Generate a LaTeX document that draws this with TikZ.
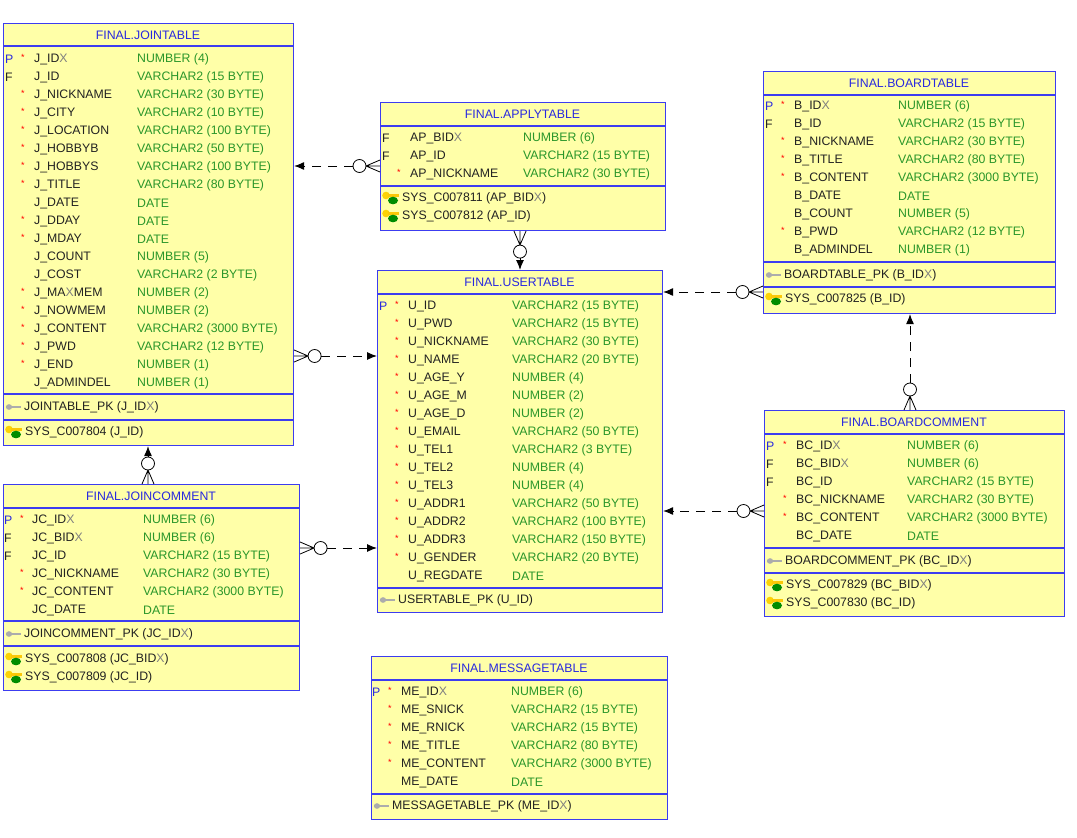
\documentclass[tikz,border=0pt]{standalone}
\usepackage{fontspec}
\setmainfont{Liberation Sans}
\usetikzlibrary{calc,arrows.meta}
\definecolor{bfill}{HTML}{FFFFA8}
\definecolor{bline}{HTML}{3C3CF0}
\definecolor{ttl}{HTML}{2828E0}
\definecolor{typ}{HTML}{2A962A}
\definecolor{nm}{HTML}{222222}
\newcounter{tn}
\newcommand\gx{\textcolor{gray}{X}}
\newcommand\tbl[6]{%
  \node[tbox,minimum width=#4-#2,minimum height=#5-#3,anchor=north west] (#1) at (#2,#3) {};
  \stepcounter{tn}\node[ttxt] (#1-t) at ({(#2+#4)/2},#3+12.5) {#6};}
\newcommand\hl[3]{\draw[bline,line width=1.1pt] (#1,#3) -- (#2,#3);}
\newcommand\cols[4]{\def\cF{#1}\def\cS{#2}\def\cN{#3}\def\cT{#4}}
\newcommand\row[5]{%
  \stepcounter{tn}\node[txt,anchor=west] (f\thetn) at (\cF-1,#1) {#2};
  \stepcounter{tn}\node[txt,red,anchor=west,font=\fontsize{9}{9}\selectfont] (s\thetn) at (\cS-1,#1-2) {#3};
  \stepcounter{tn}\node[txt,anchor=west] (n\thetn) at (\cN,#1) {#4};
  \stepcounter{tn}\node[txt,typ,anchor=west] (y\thetn) at (\cT,#1) {#5};}
\newcommand\Pf{\textcolor{ttl}{P}}
\newcommand\pkrow[3]{%
  \fill[gray!65] (#1+3,#2) ellipse (3.2 and 2.8); \draw[gray!65,line width=2.2pt] (#1+5,#2) -- (#1+15,#2);
  \stepcounter{tn}\node[txt,anchor=west] (k\thetn) at (#1+18,#2) {#3};}
\newcommand\fkrow[3]{%
  \fill[yellow!70!orange] (#1+4,#2-2.5) circle (3.8); \draw[yellow!60!orange,line width=2.6pt] (#1+6,#2-2.5) -- (#1+17,#2-2.5);
  \fill[green!55!black] (#1+11,#2+2.5) ellipse (5 and 3.8);
  \stepcounter{tn}\node[txt,anchor=west] (k\thetn) at (#1+20,#2) {#3};}
\newcommand\rel[2]{%
  \draw[black,line width=0.8pt] ($(#1)!14pt!(#2)$) -- ($(#1)!6pt!90:(#2)$)
     ($(#1)!14pt!(#2)$) -- (#1) ($(#1)!14pt!(#2)$) -- ($(#1)!6pt!-90:(#2)$);
  \draw[black,line width=0.8pt,fill=white] ($(#1)!20.5pt!(#2)$) circle (6.5);
  \draw[black,line width=1pt,dash pattern=on 9pt off 7pt,-{Latex[length=10pt,width=8pt]}] ($(#1)!27pt!(#2)$) -- (#2);}
\begin{document}
\begin{tikzpicture}[x=1pt,y=-1pt,
  tbox/.style={draw=bline,fill=bfill,line width=1.1pt,inner sep=0},
  ttxt/.style={ttl,font=\fontsize{12.3}{14}\selectfont,inner sep=0},
  txt/.style={nm,font=\fontsize{12.3}{14}\selectfont,inner sep=0}]
\useasboundingbox[fill=white] (0,0) rectangle (1077,838);
% JOINTABLE
\tbl{jt}{3}{23}{293}{445}{FINAL.JOINTABLE}
\hl{3}{293}{46}\hl{3}{293}{394}\hl{3}{293}{420}
\cols{6}{22}{34}{137}
\row{59}{\Pf}{*}{J\_ID\gx}{NUMBER (4)}
\row{77}{F}{}{J\_ID}{VARCHAR2 (15 BYTE)}
\row{95}{}{*}{J\_NICKNAME}{VARCHAR2 (30 BYTE)}
\row{113}{}{*}{J\_CITY}{VARCHAR2 (10 BYTE)}
\row{131}{}{*}{J\_LOCATION}{VARCHAR2 (100 BYTE)}
\row{149}{}{*}{J\_HOBBYB}{VARCHAR2 (50 BYTE)}
\row{167}{}{*}{J\_HOBBYS}{VARCHAR2 (100 BYTE)}
\row{185}{}{*}{J\_TITLE}{VARCHAR2 (80 BYTE)}
\row{203}{}{}{J\_DATE}{DATE}
\row{221}{}{*}{J\_DDAY}{DATE}
\row{239}{}{*}{J\_MDAY}{DATE}
\row{257}{}{}{J\_COUNT}{NUMBER (5)}
\row{275}{}{}{J\_COST}{VARCHAR2 (2 BYTE)}
\row{293}{}{*}{J\_MA\gx MEM}{NUMBER (2)}
\row{311}{}{*}{J\_NOWMEM}{NUMBER (2)}
\row{329}{}{*}{J\_CONTENT}{VARCHAR2 (3000 BYTE)}
\row{347}{}{*}{J\_PWD}{VARCHAR2 (12 BYTE)}
\row{365}{}{*}{J\_END}{NUMBER (1)}
\row{383}{}{}{J\_ADMINDEL}{NUMBER (1)}
\pkrow{6}{407}{JOINTABLE\_PK (J\_ID\gx)}
\fkrow{5}{432}{SYS\_C007804 (J\_ID)}
% APPLYTABLE
\tbl{ap}{380}{102}{665}{230}{FINAL.APPLYTABLE}
\hl{380}{665}{126}\hl{380}{665}{186}
\cols{383}{398}{410}{523}
\row{138}{F}{}{AP\_BID\gx}{NUMBER (6)}
\row{156}{F}{}{AP\_ID}{VARCHAR2 (15 BYTE)}
\row{174}{}{*}{AP\_NICKNAME}{VARCHAR2 (30 BYTE)}
\fkrow{382}{198}{SYS\_C007811 (AP\_BID\gx)}
\fkrow{382}{216}{SYS\_C007812 (AP\_ID)}
% USERTABLE
\tbl{ut}{377}{270}{662}{612}{FINAL.USERTABLE}
\hl{377}{662}{294}\hl{377}{662}{588}
\cols{380}{396}{408}{512}
\row{306}{\Pf}{*}{U\_ID}{VARCHAR2 (15 BYTE)}
\row{324}{}{*}{U\_PWD}{VARCHAR2 (15 BYTE)}
\row{342}{}{*}{U\_NICKNAME}{VARCHAR2 (30 BYTE)}
\row{360}{}{*}{U\_NAME}{VARCHAR2 (20 BYTE)}
\row{378}{}{*}{U\_AGE\_Y}{NUMBER (4)}
\row{396}{}{*}{U\_AGE\_M}{NUMBER (2)}
\row{414}{}{*}{U\_AGE\_D}{NUMBER (2)}
\row{432}{}{*}{U\_EMAIL}{VARCHAR2 (50 BYTE)}
\row{450}{}{*}{U\_TEL1}{VARCHAR2 (3 BYTE)}
\row{468}{}{*}{U\_TEL2}{NUMBER (4)}
\row{486}{}{*}{U\_TEL3}{NUMBER (4)}
\row{504}{}{*}{U\_ADDR1}{VARCHAR2 (50 BYTE)}
\row{522}{}{*}{U\_ADDR2}{VARCHAR2 (100 BYTE)}
\row{540}{}{*}{U\_ADDR3}{VARCHAR2 (150 BYTE)}
\row{558}{}{*}{U\_GENDER}{VARCHAR2 (20 BYTE)}
\row{576}{}{}{U\_REGDATE}{DATE}
\pkrow{380}{600}{USERTABLE\_PK (U\_ID)}
% BOARDTABLE
\tbl{bt}{763}{71}{1055}{313}{FINAL.BOARDTABLE}
\hl{763}{1055}{95}\hl{763}{1055}{262}\hl{763}{1055}{287}
\cols{766}{782}{794}{898}
\row{106}{\Pf}{*}{B\_ID\gx}{NUMBER (6)}
\row{124}{F}{}{B\_ID}{VARCHAR2 (15 BYTE)}
\row{142}{}{*}{B\_NICKNAME}{VARCHAR2 (30 BYTE)}
\row{160}{}{*}{B\_TITLE}{VARCHAR2 (80 BYTE)}
\row{178}{}{*}{B\_CONTENT}{VARCHAR2 (3000 BYTE)}
\row{196}{}{}{B\_DATE}{DATE}
\row{214}{}{}{B\_COUNT}{NUMBER (5)}
\row{232}{}{*}{B\_PWD}{VARCHAR2 (12 BYTE)}
\row{250}{}{}{B\_ADMINDEL}{NUMBER (1)}
\pkrow{766}{275}{BOARDTABLE\_PK (B\_ID\gx)}
\fkrow{765}{299}{SYS\_C007825 (B\_ID)}
% BOARDCOMMENT
\tbl{bc}{764}{410}{1064}{616}{FINAL.BOARDCOMMENT}
\hl{764}{1064}{434}\hl{764}{1064}{548}\hl{764}{1064}{573}
\cols{767}{784}{796}{907}
\row{446}{\Pf}{*}{BC\_ID\gx}{NUMBER (6)}
\row{464}{F}{}{BC\_BID\gx}{NUMBER (6)}
\row{482}{F}{}{BC\_ID}{VARCHAR2 (15 BYTE)}
\row{500}{}{*}{BC\_NICKNAME}{VARCHAR2 (30 BYTE)}
\row{518}{}{*}{BC\_CONTENT}{VARCHAR2 (3000 BYTE)}
\row{536}{}{}{BC\_DATE}{DATE}
\pkrow{767}{561}{BOARDCOMMENT\_PK (BC\_ID\gx)}
\fkrow{766}{585}{SYS\_C007829 (BC\_BID\gx)}
\fkrow{766}{603}{SYS\_C007830 (BC\_ID)}
% JOINCOMMENT
\tbl{jc}{3}{484}{299}{690}{FINAL.JOINCOMMENT}
\hl{3}{299}{508}\hl{3}{299}{621}\hl{3}{299}{646}
\cols{5}{21}{32}{143}
\row{520}{\Pf}{*}{JC\_ID\gx}{NUMBER (6)}
\row{538}{F}{}{JC\_BID\gx}{NUMBER (6)}
\row{556}{F}{}{JC\_ID}{VARCHAR2 (15 BYTE)}
\row{574}{}{*}{JC\_NICKNAME}{VARCHAR2 (30 BYTE)}
\row{592}{}{*}{JC\_CONTENT}{VARCHAR2 (3000 BYTE)}
\row{610}{}{}{JC\_DATE}{DATE}
\pkrow{6}{634}{JOINCOMMENT\_PK (JC\_ID\gx)}
\fkrow{5}{659}{SYS\_C007808 (JC\_BID\gx)}
\fkrow{5}{677}{SYS\_C007809 (JC\_ID)}
% MESSAGETABLE
\tbl{mt}{371}{656}{667}{819}{FINAL.MESSAGETABLE}
\hl{371}{667}{680}\hl{371}{667}{794}
\cols{373}{389}{401}{511}
\row{692}{\Pf}{*}{ME\_ID\gx}{NUMBER (6)}
\row{710}{}{*}{ME\_SNICK}{VARCHAR2 (15 BYTE)}
\row{728}{}{*}{ME\_RNICK}{VARCHAR2 (15 BYTE)}
\row{746}{}{*}{ME\_TITLE}{VARCHAR2 (80 BYTE)}
\row{764}{}{*}{ME\_CONTENT}{VARCHAR2 (3000 BYTE)}
\row{782}{}{}{ME\_DATE}{DATE}
\pkrow{374}{806}{MESSAGETABLE\_PK (ME\_ID\gx)}
% relations
\coordinate (a1) at (ap.west |- 0,166); \coordinate (b1) at (jt.east |- 0,166);
\rel{a1}{b1}
\coordinate (a2) at (520,0 |- ap.south); \coordinate (b2) at (520,0 |- ut.north);
\rel{a2}{b2}
\coordinate (a3) at (bt.west |- 0,292); \coordinate (b3) at (ut.east |- 0,292);
\rel{a3}{b3}
\coordinate (a4) at (910,0 |- bc.north); \coordinate (b4) at (910,0 |- bt.south);
\rel{a4}{b4}
\coordinate (a5) at (bc.west |- 0,511); \coordinate (b5) at (ut.east |- 0,511);
\rel{a5}{b5}
\coordinate (a6) at (jt.east |- 0,356); \coordinate (b6) at (ut.west |- 0,356);
\rel{a6}{b6}
\coordinate (a7) at (jc.east |- 0,548); \coordinate (b7) at (ut.west |- 0,548);
\rel{a7}{b7}
\coordinate (a8) at (148,0 |- jc.north); \coordinate (b8) at (148,0 |- jt.south);
\rel{a8}{b8}
\end{tikzpicture}
\end{document}
